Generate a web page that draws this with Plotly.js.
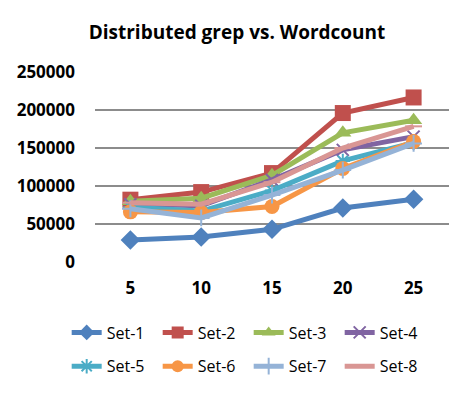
<!DOCTYPE html>
<html>
<head>
<meta charset="utf-8">
<script src="https://cdn.plot.ly/plotly-3.0.1.min.js"></script>
<style>html,body{margin:0;padding:0;background:#fff;}#chart{width:474px;height:395px;}</style>
</head>
<body>
<div id="chart"></div>
<script>
const categories = ['5', '10', '15', '20', '25'];
const seriesNames = ['Set-1', 'Set-2', 'Set-3', 'Set-4', 'Set-5', 'Set-6', 'Set-7', 'Set-8'];
const set1 = [29000, 33000, 43000, 71000, 82500];
const set2 = [82000, 92000, 117000, 196000, 216500];
const set3 = [80000, 84000, 114000, 170000, 186500];
const set4 = [76000, 74000, 108000, 147500, 165000];
const set5 = [72000, 67000, 94000, 133000, 157000];
const set6 = [66000, 65000, 73000, 123000, 158500];
const set7 = [70000, 58000, 88000, 121000, 156000];
const set8 = [78000, 76000, 105000, 150000, 178500];
const yTicks = [0, 50000, 100000, 150000, 200000, 250000];

const allValues = [set1, set2, set3, set4, set5, set6, set7, set8];
const colors = ['#4F81BD', '#C0504D', '#9BBB59', '#8064A2', '#4BACC6', '#F79646', '#95B3D7', '#D99694'];
const symbols = ['diamond', 'square', 'triangle-up', 'x-thin-open', 'asterisk-open', 'circle', 'cross-thin-open', 'line-ew-open'];
const sizes = [15, 16, 15, 12, 12, 15, 12, 12];

const traces = allValues.map((vals, i) => ({
  type: 'scatter',
  mode: 'lines+markers',
  name: seriesNames[i],
  x: categories,
  y: vals,
  legend: i < 4 ? 'legend' : 'legend2',
  line: {color: colors[i], width: 5},
  marker: {
    symbol: symbols[i],
    size: sizes[i],
    color: colors[i],
    line: {color: colors[i], width: symbols[i].indexOf('open') >= 0 ? 2 : 0}
  }
}));

const legendCommon = {
  orientation: 'h',
  xref: 'paper', yref: 'paper',
  xanchor: 'left', yanchor: 'middle',
  font: {family: 'Open Sans, sans-serif', size: 16, color: '#000'},
  entrywidth: 46, entrywidthmode: 'pixels',
  itemsizing: 'constant',
  bgcolor: 'rgba(0,0,0,0)',
  itemclick: false
};

const layout = {
  width: 474, height: 395,
  margin: {l: 95, r: 24.5, t: 72, b: 133},
  paper_bgcolor: '#fff', plot_bgcolor: '#fff',
  title: {
    text: '<b>Distributed grep vs. Wordcount</b>',
    font: {family: 'Open Sans, sans-serif', size: 19, color: '#000'},
    x: 0.5, xref: 'container', xanchor: 'center',
    y: 1 - 32/395, yref: 'container', yanchor: 'middle'
  },
  xaxis: {
    type: 'category',
    range: [-0.5, 4.5],
    showgrid: false, zeroline: false, showline: false,
    ticks: '',
    ticklabelstandoff: 14,
    tickfont: {family: 'Open Sans, sans-serif', size: 17, color: '#000', weight: 'bold'},
    fixedrange: true
  },
  yaxis: {
    range: [0, 250000],
    tickvals: yTicks,
    ticktext: yTicks.map(String),
    showgrid: true, gridcolor: '#8C8C8C', gridwidth: 1.5,
    zeroline: false, showline: false,
    ticks: '',
    ticklabelstandoff: 19,
    tickfont: {family: 'Open Sans, sans-serif', size: 17, color: '#000', weight: 'bold'},
    fixedrange: true
  },
  showlegend: true,
  legend: Object.assign({}, legendCommon, {x: -0.08, y: -0.371}),
  legend2: Object.assign({}, legendCommon, {x: -0.08, y: -0.549})
};

Plotly.newPlot('chart', traces, layout, {displayModeBar: false, staticPlot: true});
</script>
</body>
</html>
